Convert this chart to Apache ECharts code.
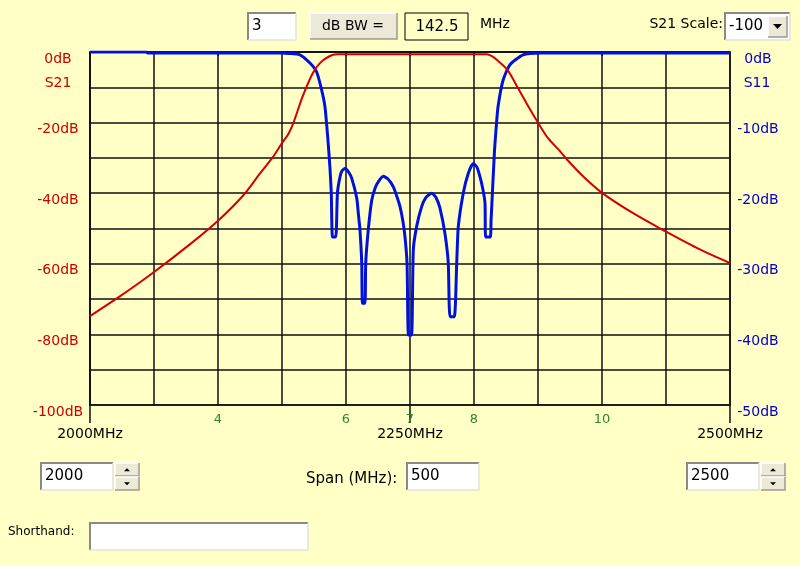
<!DOCTYPE html>
<html>
<head>
<meta charset="utf-8">
<script src="https://cdn.jsdelivr.net/npm/echarts@6.0.0/dist/echarts.min.js"></script>
<style>
html,body{margin:0;padding:0;background:#FFFFC6;}
#chart{width:800px;height:566px;}
</style>
</head>
<body>
<div id="chart"></div>
<script>
// ---- data ----
const s21Freq = [2000,2023,2049,2078,2100,2120,2133,2143,2150,2155,2159,2166,2174,2180,2187,2193,2310,2314,2318,2326,2334,2341,2350,2358,2367,2373,2386,2400,2424,2449,2474,2500];
const s21Db   = [-74.8,-69.3,-62.6,-54.5,-47.8,-40.5,-34.3,-29.7,-25.8,-23.2,-20,-12.7,-6,-3,-1.2,-0.65,-0.65,-1.2,-2.3,-5,-10,-14.5,-20,-24.5,-28,-30.6,-35.5,-39.9,-45.6,-50.7,-55.5,-59.8];

const s11Freq = [2000,2044,2045,2150,2155,2164,2172,2177,2181,2183.6,2185.9,2187.5,2188.5,2189.5,2192,2193.3,2195.3,2197,2199.2,2202,2204.5,2208.4,2209.6,2210.9,2212.3,2212.9,2214.8,2215.4,2217.4,2220.1,2222.7,2225.2,2229.1,2232.8,2237,2239.8,2242.2,2244.5,2246.1,2247.7,2248.8,2251.2,2252.6,2255.2,2259.1,2262.5,2267,2270.3,2273.4,2277.3,2279.9,2281.25,2284.6,2286.5,2287.7,2291.6,2295.5,2299.5,2302.3,2304.7,2307,2308.6,2309.1,2312.7,2313.3,2314.5,2316,2317.2,2318.75,2322.7,2328.1,2338.3,2351.6,2500];
const s11Db   = [0,0,-0.15,-0.15,-0.2,-0.4,-1.6,-2.8,-5.4,-7.8,-12.5,-16.5,-20,-26.2,-26.2,-20,-17.7,-16.8,-16.5,-17,-17.9,-20.7,-22.8,-25.2,-29.9,-35.6,-35.6,-29.9,-25.2,-21,-19.3,-18.4,-17.6,-18,-19.1,-20.5,-21.9,-24,-26.2,-30,-40.1,-40.1,-28,-24.7,-21.9,-20.6,-20,-20.6,-22.1,-25.7,-29.9,-37.5,-37.5,-29.9,-24.8,-20,-17.2,-15.8,-16.3,-17.7,-19.5,-21.4,-26.2,-26.2,-24,-19.5,-14,-11,-7.8,-4,-1.8,-0.4,-0.15,-0.15];

const markerFreqs  = [2100,2200,2250,2300,2400];
const markerLabels = ['4','6','7','8','10'];
const edgeFreqs    = [2000,2250,2500];

const topBoxes = { level: '3', button: 'dB BW =', bw: '142.5', unit: 'MHz', scaleLabel: 'S21 Scale:', scale: '-100' };
const bottomBoxes = { start: '2000', spanLabel: 'Span (MHz):', span: '500', stop: '2500', shorthand: 'Shorthand:' };

// ---- build ----
const FONT = 'DejaVu Sans';
const BG = '#FFFFC6';
const zip = (a, b) => a.map((v, i) => [v, b[i]]);

function sunken(x, y, w, h, txt, fs) {
  const els = [
    { type: 'rect', shape: { x, y, width: w, height: h }, style: { fill: '#ffffff', stroke: null } },
    { type: 'polyline', shape: { points: [[x, y + h], [x, y], [x + w, y]] }, style: { stroke: '#8a8a80', lineWidth: 2, fill: null } },
    { type: 'polyline', shape: { points: [[x + w, y], [x + w, y + h], [x, y + h]] }, style: { stroke: '#e4e4d8', lineWidth: 1.5, fill: null } }
  ];
  if (txt !== undefined) {
    els.push({ type: 'text', x: x + 4, y: y + h / 2, style: { text: txt, font: (fs || 15) + 'px ' + FONT, fill: '#000', align: 'left', verticalAlign: 'middle' } });
  }
  return els;
}
function raised(x, y, w, h) {
  return [
    { type: 'rect', shape: { x, y, width: w, height: h }, style: { fill: '#ECE9D8', stroke: null } },
    { type: 'polyline', shape: { points: [[x, y + h], [x, y], [x + w, y]] }, style: { stroke: '#ffffff', lineWidth: 1.5, fill: null } },
    { type: 'polyline', shape: { points: [[x + w, y], [x + w, y + h], [x, y + h]] }, style: { stroke: '#9d9a8c', lineWidth: 1.5, fill: null } }
  ];
}
function spinner(x, y, w, h) {
  const hh = h / 2;
  const cx = x + w / 2;
  return [].concat(
    raised(x, y, w, hh - 0.5),
    raised(x, y + hh + 0.5, w, hh - 0.5),
    [
      { type: 'polygon', shape: { points: [[cx - 3, y + hh / 2 + 1.5], [cx + 3, y + hh / 2 + 1.5], [cx, y + hh / 2 - 1.5]] }, style: { fill: '#000' } },
      { type: 'polygon', shape: { points: [[cx - 3, y + hh + hh / 2 - 1], [cx + 3, y + hh + hh / 2 - 1], [cx, y + hh + hh / 2 + 2]] }, style: { fill: '#000' } }
    ]
  );
}
function label(x, y, txt, fs, align, color) {
  return { type: 'text', x, y, style: { text: txt, font: fs + 'px ' + FONT, fill: color || '#000', align: align || 'left', verticalAlign: 'middle' } };
}

let g = [];
// top row
g = g.concat(sunken(248, 13, 48, 27, topBoxes.level, 15));
g = g.concat(raised(310, 13, 87, 26));
g.push(label(353, 26, topBoxes.button, 14, 'center'));
g.push({ type: 'rect', shape: { x: 405, y: 13, width: 63, height: 27 }, style: { fill: null, stroke: '#000', lineWidth: 1 } });
g.push(label(437, 27, topBoxes.bw, 15, 'center'));
g.push(label(480, 24, topBoxes.unit, 14, 'left'));
g.push(label(723, 24, topBoxes.scaleLabel, 14, 'right'));
g = g.concat(sunken(725, 13, 65, 27, topBoxes.scale, 15));
g = g.concat(raised(768, 16, 19, 21));
g.push({ type: 'polygon', shape: { points: [[773, 24], [782, 24], [777.5, 29]] }, style: { fill: '#000' } });
// side titles
g.push(label(58, 83, 'S21', 14, 'center', '#cc0000'));
g.push(label(757, 83, 'S11', 14, 'center', '#0000cc'));
// bottom row
g = g.concat(sunken(41, 463, 72, 27, bottomBoxes.start, 15));
g = g.concat(spinner(115, 463, 24, 27));
g.push(label(306, 479, bottomBoxes.spanLabel, 15, 'left'));
g = g.concat(sunken(407, 463, 72, 27, bottomBoxes.span, 15));
g = g.concat(sunken(687, 463, 72, 27, bottomBoxes.stop, 15));
g = g.concat(spinner(761, 463, 24, 27));
g.push(label(8, 532, bottomBoxes.shorthand, 12, 'left'));
g = g.concat(sunken(90, 523, 218, 27));

const chart = echarts.init(document.getElementById('chart'));
chart.setOption({
  backgroundColor: BG,
  animation: false,
  grid: { left: 90, right: 70, top: 52, bottom: 161, show: true, borderColor: '#111', borderWidth: 1.5, backgroundColor: 'transparent' },
  xAxis: [
    {
      type: 'value', position: 'bottom', min: 2000, max: 2500, interval: 50,
      axisLine: { show: true, lineStyle: { color: '#111', width: 1.5 } },
      splitLine: { show: true, lineStyle: { color: '#111', width: 1.5 } },
      axisTick: { show: false },
      axisLabel: { show: false }
    },
    {
      type: 'value', position: 'bottom', min: 2000, max: 2500, interval: 50,
      axisLine: { show: false },
      splitLine: { show: false },
      axisTick: { show: true, length: 4, customValues: markerFreqs, lineStyle: { color: '#111', width: 1.5 } },
      axisLabel: {
        show: true, customValues: markerFreqs, margin: 8,
        formatter: v => { const i = markerFreqs.indexOf(v); return i >= 0 ? markerLabels[i] : ''; },
        color: '#2a8a2a', fontFamily: FONT, fontSize: 13
      }
    },
    {
      type: 'value', position: 'bottom', min: 2000, max: 2500, interval: 50,
      axisLine: { show: false },
      splitLine: { show: false },
      axisTick: { show: true, length: 18, customValues: edgeFreqs, lineStyle: { color: '#111', width: 1.5 } },
      axisLabel: {
        show: true, customValues: edgeFreqs, margin: 22,
        formatter: v => v + 'MHz',
        color: '#000', fontFamily: FONT, fontSize: 14
      }
    }
  ],
  yAxis: [
    {
      type: 'value', position: 'left', min: -100, max: 0, interval: 10,
      axisLine: { show: true, lineStyle: { color: '#111', width: 1.5 } },
      axisTick: { show: false },
      splitLine: { show: true, lineStyle: { color: '#111', width: 1.5 } },
      axisLabel: {
        margin: 32, align: 'center', verticalAlign: 'top',
        formatter: v => (v % 20 === 0 ? v + 'dB' : ''),
        color: '#cc0000', fontFamily: FONT, fontSize: 14
      }
    },
    {
      type: 'value', position: 'right', min: -50, max: 0, interval: 5,
      axisLine: { show: false },
      axisTick: { show: false },
      splitLine: { show: false },
      axisLabel: {
        margin: 28, align: 'center', verticalAlign: 'top',
        formatter: v => (v % 10 === 0 ? v + 'dB' : ''),
        color: '#0000cc', fontFamily: FONT, fontSize: 14
      }
    }
  ],
  series: [
    {
      name: 'S11', type: 'line', xAxisIndex: 0, yAxisIndex: 1, data: zip(s11Freq, s11Db),
      showSymbol: false, symbol: 'none', clip: true, smooth: 0.2,
      lineStyle: { color: '#0010e0', width: 3 }, z: 3
    },
    {
      name: 'S21', type: 'line', xAxisIndex: 0, yAxisIndex: 0, data: zip(s21Freq, s21Db),
      showSymbol: false, symbol: 'none', clip: true, smooth: 0.3,
      lineStyle: { color: '#d40000', width: 2 }, z: 4
    }
  ],
  graphic: { elements: g }
});
</script>
</body>
</html>
